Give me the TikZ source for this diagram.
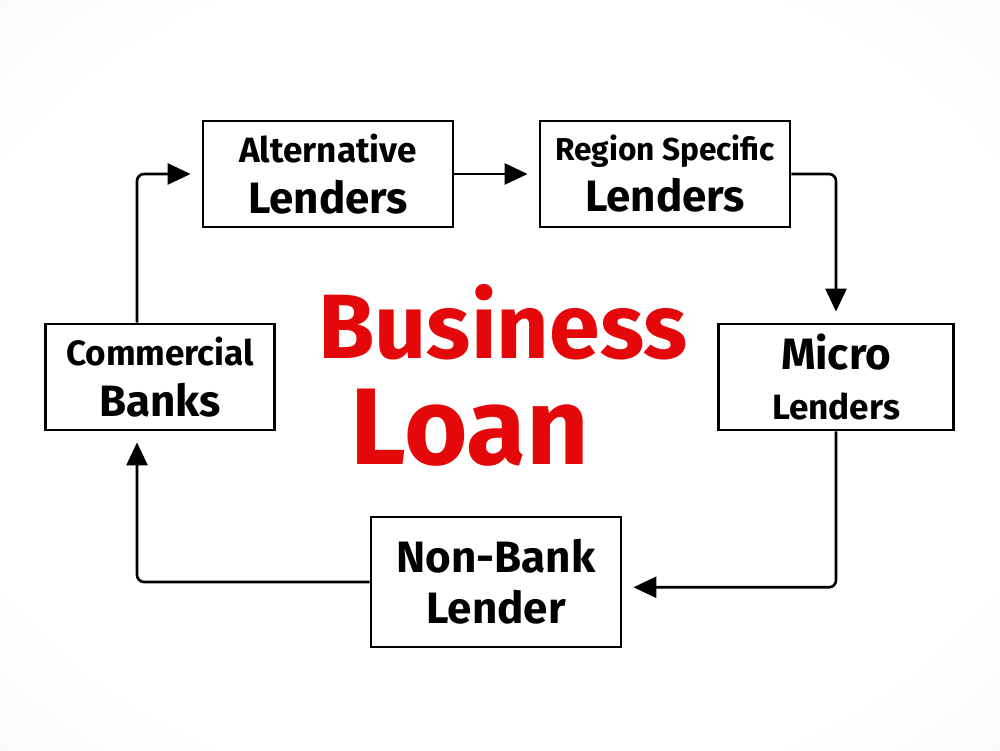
\documentclass[tikz,border=0pt]{standalone}
\usepackage{fontspec}
\setmainfont{Fira Sans}
\usepackage{tikz}
\usetikzlibrary{arrows.meta, positioning, calc}
\definecolor{loanred}{RGB}{228,8,10}
\definecolor{bgedge}{RGB}{226,226,226}
\pgfdeclareradialshading{paper}{\pgfpoint{0bp}{0bp}}{color(0bp)=(white); color(28bp)=(white); color(72bp)=(bgedge)}
\newcommand{\smline}[1]{{\fontsize{20}{24}\selectfont #1}}
\newcommand{\bgline}[1]{{\fontsize{25}{30}\selectfont #1}}

\begin{document}
\begin{tikzpicture}[
    box/.style={rectangle, draw=black, line width=1.6pt, fill=white,
                minimum width=5cm, minimum height=2.12cm, align=center,
                font=\bfseries\fontsize{22}{29}\selectfont, inner sep=2pt},
    arrow/.style={-{Triangle[width=0.42cm, length=0.46cm]}, line width=1.5pt,
                  rounded corners=4pt, shorten >=0.22cm},
    title/.style={text=loanred, font=\bfseries}
]
    % Background
    \shade[shading=paper] (0,0) rectangle (20,15);
    \useasboundingbox (0,0) rectangle (20,15);

    % Nodes
    \node[box] (alt) at (6.56,11.52) {\smline{Alternative}\\\bgline{Lenders}};
    \node[box] (region) at (13.30,11.52) {{\fontsize{18}{24}\selectfont Region Specific}\\\bgline{Lenders}};
    \node[box, minimum width=4.7cm] (micro) at (16.72,7.46) {\bgline{Micro}\\\smline{Lenders}};
    \node[box, minimum height=2.6cm] (nonbank) at (9.92,3.36) {\bgline{Non-Bank}\\\bgline{Lender}};
    \node[box, minimum width=4.58cm] (comm) at (3.20,7.46) {\smline{Commercial}\\\bgline{Banks}};

    % Title
    \node[title, font=\bfseries\fontsize{52}{60}\selectfont] (biz) at (10.06,8.55) {Business};
    \node[title, font=\bfseries\fontsize{62}{70}\selectfont] (loan) at (9.40,6.45) {Loan};

    % Arrows
    \draw[arrow] (alt) -- (region);
    \draw[arrow] (region.east) -| (micro.north);
    \draw[arrow] (micro.south) |- ([yshift=-3pt]nonbank.east);
    \draw[arrow] (nonbank.west) -| ([xshift=-0.46cm]comm.south);
    \draw[arrow] ([xshift=-0.46cm]comm.north) |- (alt.west);
\end{tikzpicture}
\end{document}
